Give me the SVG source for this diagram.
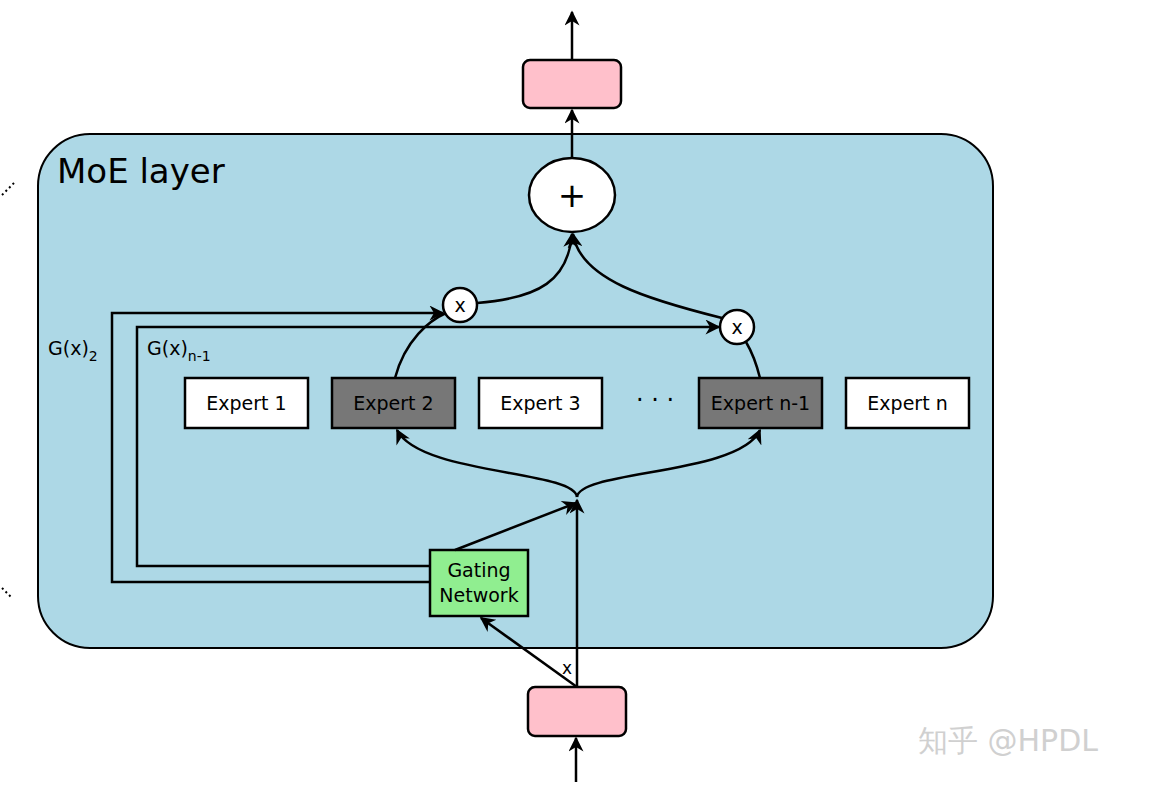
<svg xmlns="http://www.w3.org/2000/svg" width="1150" height="787" viewBox="0 0 1150 787">
<defs>
<marker id="ah" viewBox="0 0 10 10" refX="9" refY="5" markerWidth="17" markerHeight="15" orient="auto" markerUnits="userSpaceOnUse"><path d="M0,0 L10,5 L0,10 L3,5 z" fill="#000"/></marker>
<style>
text{font-family:"DejaVu Sans",sans-serif;fill:#000}
.c{fill:none;stroke:#000;stroke-width:2.5}
.a{marker-end:url(#ah)}
.b{stroke:#000;stroke-width:2.5}
</style>
</defs>
<rect width="1150" height="787" fill="#fff"/>
<g id="moe"><rect x="38" y="134" width="955" height="514" rx="52" fill="#add8e6" stroke="#000" stroke-width="2"/><text x="57" y="183" font-size="34">MoE layer</text></g>
<g stroke="#000" stroke-width="2" stroke-dasharray="2,3"><path d="M2,195 L14,183"/><path d="M2,588 L12,598"/></g>
<g id="out"><rect class="b" x="523" y="60" width="98" height="48" rx="7" fill="#ffc0cb"/></g>
<g id="in"><rect class="b" x="528" y="687" width="98" height="49" rx="7" fill="#ffc0cb"/></g>
<g id="plus"><ellipse class="b" cx="572" cy="195" rx="43" ry="37" fill="#fff"/><text x="572" y="207" font-size="34" text-anchor="middle">+</text></g>
<g id="x1"><circle class="b" cx="460" cy="305" r="17" fill="#fff"/><text x="460" y="312" font-size="19" text-anchor="middle">x</text></g>
<g id="x2"><circle class="b" cx="737" cy="327" r="17" fill="#fff"/><text x="737" y="334" font-size="19" text-anchor="middle">x</text></g>
<g id="e1"><rect class="b" x="185" y="378" width="123" height="50" fill="#fff"/><text x="246.5" y="410" font-size="19" text-anchor="middle">Expert 1</text></g>
<g id="e2"><rect class="b" x="332" y="378" width="123" height="50" fill="#777"/><text x="393.5" y="410" font-size="19" text-anchor="middle">Expert 2</text></g>
<g id="e3"><rect class="b" x="479" y="378" width="123" height="50" fill="#fff"/><text x="540.5" y="410" font-size="19" text-anchor="middle">Expert 3</text></g>
<g id="dots"><text x="655" y="408" font-size="24" text-anchor="middle">· · ·</text></g>
<g id="en1"><rect class="b" x="699" y="378" width="123" height="50" fill="#777"/><text x="760.5" y="410" font-size="19" text-anchor="middle">Expert n-1</text></g>
<g id="en"><rect class="b" x="846" y="378" width="123" height="50" fill="#fff"/><text x="907.5" y="410" font-size="19" text-anchor="middle">Expert n</text></g>
<g id="gate"><rect class="b" x="430" y="550" width="98" height="66" fill="#90ee90"/><text x="479" y="577" font-size="19" text-anchor="middle">Gating</text><text x="479" y="602" font-size="19" text-anchor="middle">Network</text></g>
<g id="connectors">
<path class="c a" d="M572,158 L572,110"/>
<path class="c a" d="M572,60 L572,12"/>
<path class="c a" d="M576,782 L576,738"/>
<path class="c a" d="M577,687 L577,500"/>
<path class="c a" d="M577,687 L481,618"/>
<path class="c a" d="M455,550 L576,503"/>
<path class="c a" d="M577,497 C574,470 420,475 397,430"/>
<path class="c a" d="M577,497 C580,470 740,475 760,430"/>
<path class="c" d="M395,378 C405,340 430,320 446,313"/>
<path class="c a" d="M477,303 C540,298 568,280 572,234"/>
<path class="c" d="M760,378 C756,362 752,352 746,342"/>
<path class="c a" d="M722,318 C650,300 580,280 573,234"/>
<path class="c a" d="M430,582 L112,582 L112,313 L443,313"/>
<path class="c a" d="M430,566 L137,566 L137,327 L719,327"/>
</g>
<text x="48" y="355" font-size="19">G(x)<tspan font-size="14" dy="6">2</tspan></text>
<text x="147" y="355" font-size="19">G(x)<tspan font-size="14" dy="6">n-1</tspan></text>
<text x="562" y="674" font-size="17">x</text>
<text x="918" y="751" font-size="30" style="fill:#d0d0d0" font-family="'Noto Sans CJK SC',sans-serif">知乎 @HPDL</text>
</svg>
